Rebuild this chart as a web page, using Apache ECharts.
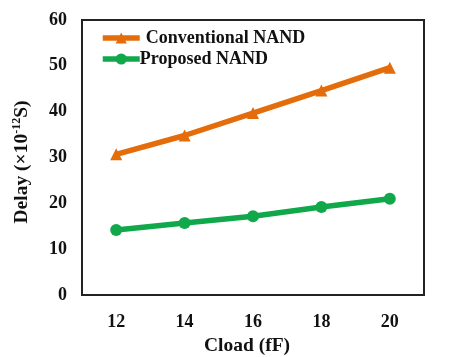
<!DOCTYPE html>
<html><head><meta charset="utf-8">
<script src="https://cdn.jsdelivr.net/npm/echarts@6/dist/echarts.min.js"></script>
<style>html,body{margin:0;padding:0;background:#fff}#c{width:474px;height:357px}</style>
</head><body><div id="c"></div>
<script>
const categories = ['12', '14', '16', '18', '20'];
const conventional = [30.7, 34.8, 39.7, 44.6, 49.6];
const proposed = [14.2, 15.7, 17.2, 19.2, 21.0];
const seriesNames = ['Conventional NAND', 'Proposed NAND'];

const font = 'Liberation Serif';
const legendText = { fontFamily: font, fontWeight: 'bold', fontSize: 18, color: '#111' };
const chart = echarts.init(document.getElementById('c'));
chart.setOption({
  backgroundColor: '#fff',
  animation: false,
  grid: { left: 82, right: 50, top: 20, bottom: 62, outerBoundsMode: 'none', show: true, borderColor: '#222', borderWidth: 2, backgroundColor: 'transparent' },
  legend: [
    { left: 100, top: 29, padding: 0, itemWidth: 37, itemHeight: 14, lineStyle: { width: 5.5 },
      textStyle: Object.assign({ padding: [0, 0, 0, 1] }, legendText), data: [seriesNames[0]] },
    { left: 100, top: 50, padding: 0, itemWidth: 37, itemHeight: 14, lineStyle: { width: 5.5 },
      textStyle: Object.assign({ padding: [0, 0, 0, -5] }, legendText), data: [seriesNames[1]] }
  ],
  xAxis: {
    type: 'category', data: categories, boundaryGap: true,
    axisLine: { show: true, lineStyle: { color: '#222', width: 2 } },
    axisTick: { show: false },
    axisLabel: { fontFamily: font, fontWeight: 'bold', fontSize: 18, color: '#111', margin: 18 },
    name: 'Cload (fF)', nameLocation: 'middle', nameGap: 36,
    nameTextStyle: { fontFamily: font, fontWeight: 'bold', fontSize: 19.5, color: '#111', padding: [0, 12, 0, 0] }
  },
  yAxis: {
    type: 'value', min: 0, max: 60, interval: 10,
    axisLine: { show: true, lineStyle: { color: '#222', width: 2 } },
    axisTick: { show: false },
    splitLine: { show: false },
    axisLabel: { fontFamily: font, fontWeight: 'bold', fontSize: 18, color: '#111', margin: 15 },
    name: '{a|Delay (×10}{s|-12}{a|S)}', nameLocation: 'middle', nameGap: 50, nameRotate: 90,
    nameTextStyle: {
      padding: [0, 9, 0, 0],
      rich: {
        a: { fontFamily: font, fontWeight: 'bold', fontSize: 19.5, color: '#111' },
        s: { fontFamily: font, fontWeight: 'bold', fontSize: 12, color: '#111', verticalAlign: 'top', padding: [0, 0, 9, 0] }
      }
    }
  },
  series: [
    { name: seriesNames[0], type: 'line', data: conventional, symbol: 'triangle', symbolSize: 12,
      lineStyle: { width: 5.5, color: '#E46C0A' }, itemStyle: { color: '#E46C0A' } },
    { name: seriesNames[1], type: 'line', data: proposed, symbol: 'circle', symbolSize: 12,
      lineStyle: { width: 5.5, color: '#10A84A' }, itemStyle: { color: '#10A84A' } }
  ]
});
</script></body></html>
